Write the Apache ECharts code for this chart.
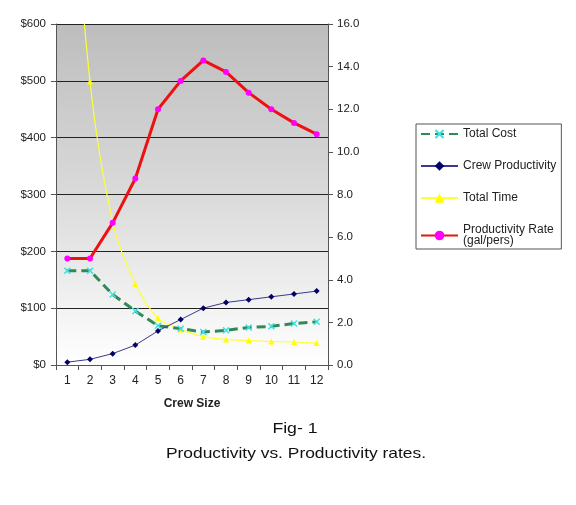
<!DOCTYPE html>
<html><head><meta charset="utf-8">
<script src="https://cdn.jsdelivr.net/npm/echarts@6/dist/echarts.min.js"></script>
<style>html,body{margin:0;padding:0;background:#fff}#c{width:576px;height:505px}</style>
</head><body><div id="c"></div>
<script>
var crewSizes = ['1','2','3','4','5','6','7','8','9','10','11','12'];
var totalCost = [166,166,124,95,69,64,58,61,66,68,73,76];
var crewProductivity = [5,10,20,35,60,80,100,110,115,120,125,130];
var totalTime = [26.7,13.3,6.7,3.8,2.2,1.67,1.33,1.2,1.15,1.1,1.08,1.03];
var productivityRate = [5.0,5.0,6.67,8.75,12.0,13.33,14.29,13.75,12.78,12.0,11.36,10.83];
var leftTicks = [0,100,200,300,400,500,600];
var rightTicks = [0,2,4,6,8,10,12,14,16];

var chart = echarts.init(document.getElementById('c'));
var font = 'Liberation Sans, Arial, sans-serif';
var xMark = 'path://M0,1.5L1.5,0L5,3.5L8.5,0L10,1.5L6.5,5L10,8.5L8.5,10L5,6.5L1.5,10L0,8.5L3.5,5Z';
chart.setOption({
  animation: false,
  textStyle: {fontFamily: font},
  grid: {left: 56, right: 248, top: 24, bottom: 140, show: true, borderWidth: 0,
    backgroundColor: {type:'linear', x:0, y:0, x2:0, y2:1, colorStops:[
      {offset:0, color:'#bdbdbd'},{offset:0.5, color:'#dadada'},{offset:1, color:'#ffffff'}]}},
  legend: {
    orient: 'vertical', left: 416, top: 124,
    padding: [4, 5, 2, 4], itemGap: 20, itemWidth: 37, itemHeight: 12,
    borderColor: '#555', borderWidth: 1, backgroundColor: '#fff',
    textStyle: {fontSize: 12, color: '#222', fontFamily: font, lineHeight: 11},
    data: ['Total Cost','Crew Productivity','Total Time','Productivity Rate\n(gal/pers)']
  },
  xAxis: {
    type: 'category', data: crewSizes, boundaryGap: true,
    name: 'Crew Size', nameLocation: 'middle', nameGap: 33,
    nameTextStyle: {fontSize: 12, fontWeight: 'bold', color: '#222'},
    axisLine: {lineStyle: {color: '#555'}},
    axisTick: {show: true, length: 5, lineStyle: {color: '#555'}},
    axisLabel: {fontSize: 12, color: '#222', margin: 10}
  },
  yAxis: [{
    type: 'value', min: 0, max: 600, interval: 100,
    axisLine: {show: true, lineStyle: {color: '#555'}},
    axisTick: {show: true, length: 5, lineStyle: {color: '#555'}},
    axisLabel: {fontSize: 11.5, color: '#222', margin: 10, formatter: function(v){return '$' + v;}},
    splitLine: {show: true, lineStyle: {color: '#222', width: 1}}
  },{
    type: 'value', min: 0, max: 16, interval: 2, position: 'right',
    axisLine: {show: true, lineStyle: {color: '#555'}},
    axisTick: {show: true, length: 5, lineStyle: {color: '#555'}},
    axisLabel: {fontSize: 11.5, color: '#222', margin: 9, formatter: function(v){return v.toFixed(1);}},
    splitLine: {show: false}
  }],
  series: [{
    name: 'Total Cost', type: 'line', yAxisIndex: 0, data: totalCost,
    symbol: xMark, symbolSize: 7, z: 3,
    lineStyle: {color: '#2e8b57', width: 3, type: [9, 5]},
    itemStyle: {color: '#40e0e0'}
  },{
    name: 'Crew Productivity', type: 'line', yAxisIndex: 0, data: crewProductivity,
    symbol: 'diamond', symbolSize: 6, z: 4,
    lineStyle: {color: '#3a3a8c', width: 1},
    itemStyle: {color: '#000066'}
  },{
    name: 'Total Time', type: 'line', yAxisIndex: 1, data: totalTime,
    symbol: 'triangle', symbolSize: 6, smooth: 0.35, clip: true, z: 2,
    lineStyle: {color: '#ffff33', width: 1.2},
    itemStyle: {color: '#ffff00'}
  },{
    name: 'Productivity Rate\n(gal/pers)', type: 'line', yAxisIndex: 1, data: productivityRate,
    symbol: 'circle', symbolSize: 6, z: 5,
    lineStyle: {color: '#ee1111', width: 3},
    itemStyle: {color: '#ff00ff'}
  }],
  graphic: [
    {type: 'text', x: 295, y: 421, scaleX: 1.18, style: {text: 'Fig- 1', fontSize: 15, fontFamily: font, fill: '#111', textAlign: 'center'}},
    {type: 'text', x: 296, y: 446, scaleX: 1.16, style: {text: 'Productivity vs. Productivity rates.', fontSize: 15, fontFamily: font, fill: '#111', textAlign: 'center'}}
  ]
});
</script></body></html>
